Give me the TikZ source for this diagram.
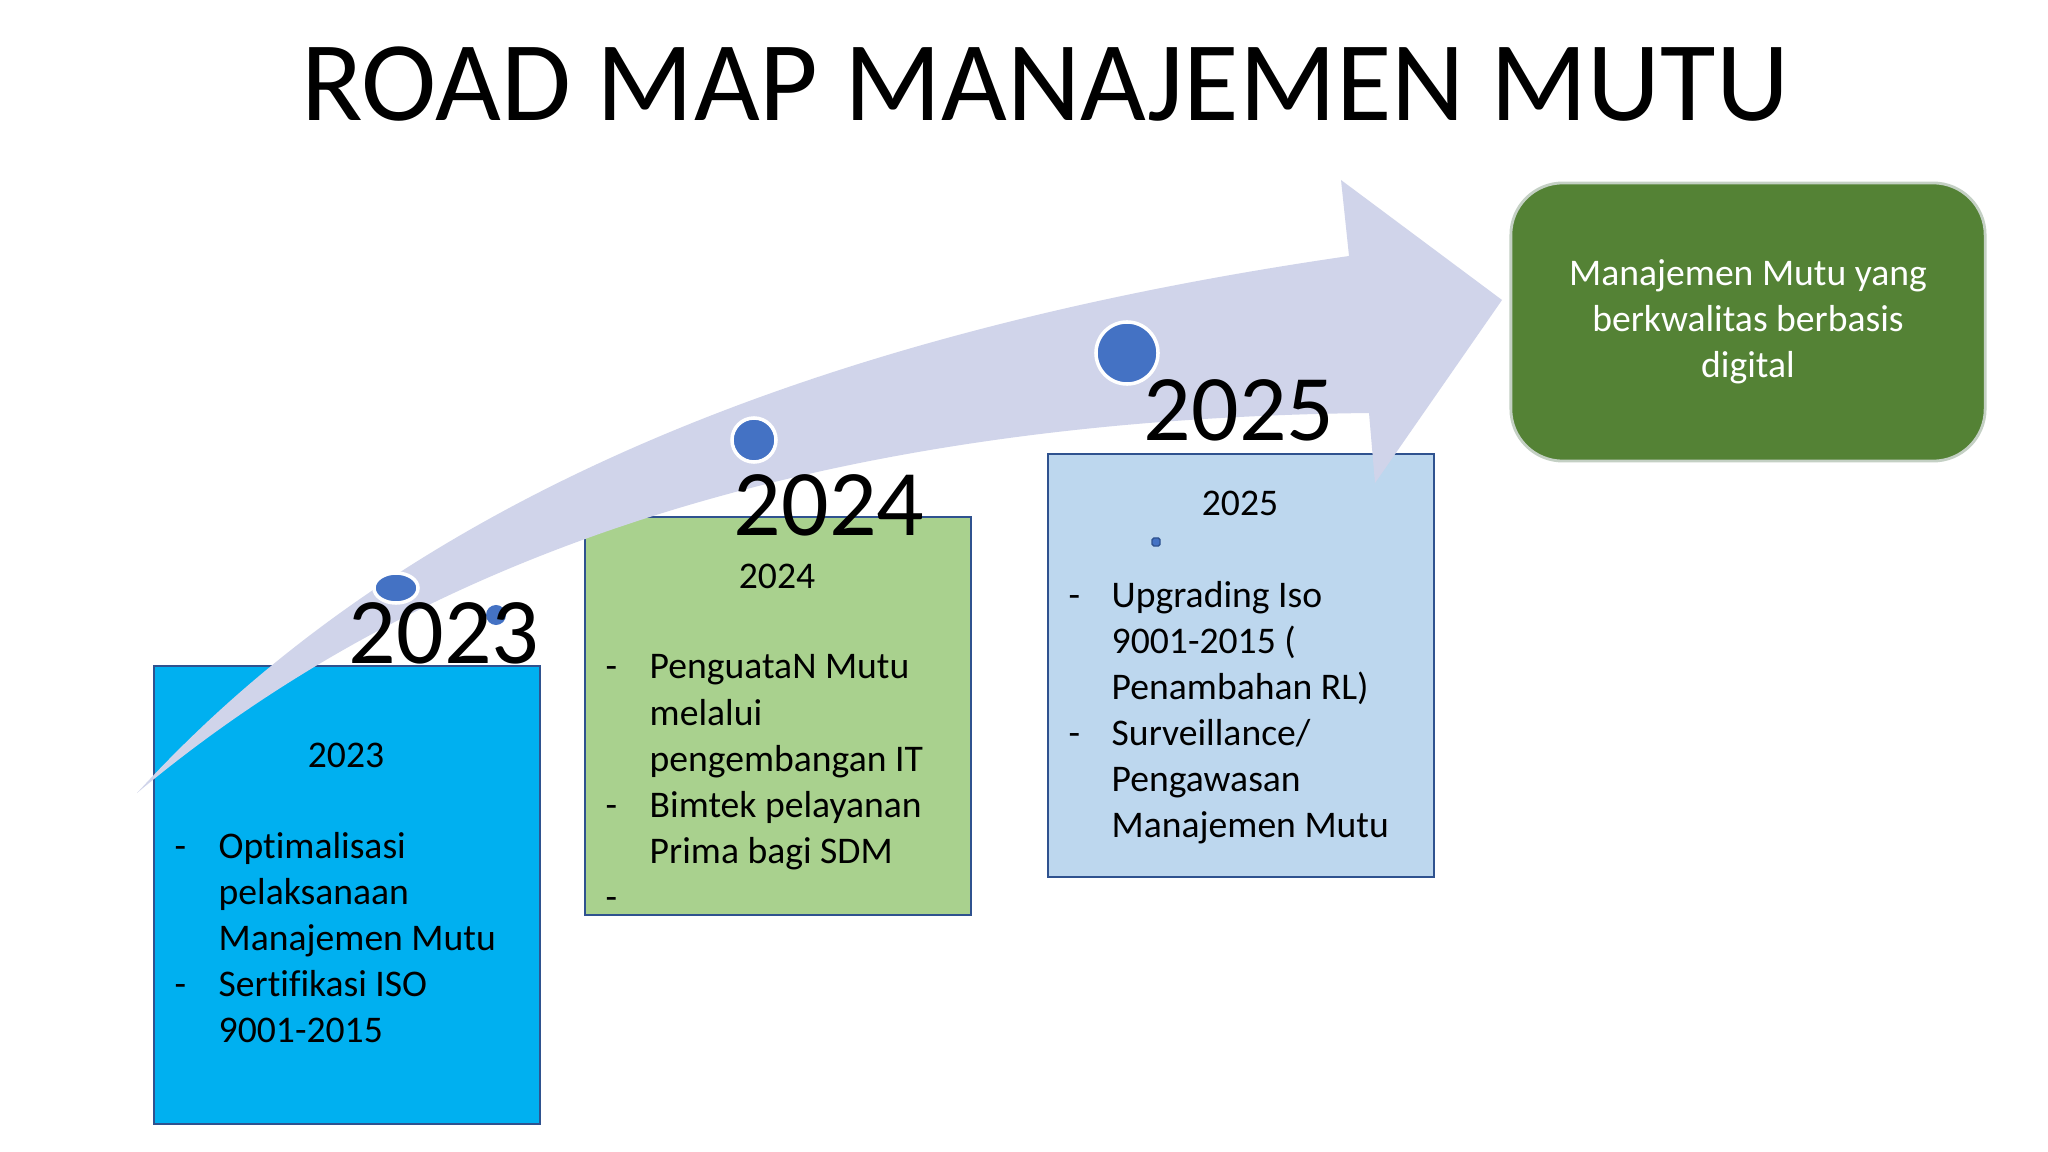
\documentclass[tikz,border=0pt]{standalone}
\usepackage{fontspec}
\setmainfont{Carlito}[Ligatures={NoCommon}]
\usetikzlibrary{shapes.geometric}
\definecolor{arrowfill}{RGB}{208,212,234}
\definecolor{boxedge}{RGB}{47,82,143}
\definecolor{cyanbox}{RGB}{0,176,240}
\definecolor{greenbox}{RGB}{169,209,142}
\definecolor{bluebox}{RGB}{189,215,238}
\definecolor{goalgreen}{RGB}{84,130,53}
\definecolor{dotblue}{RGB}{68,114,196}
\newcommand{\itemfont}{\fontsize{10.7pt}{13.1pt}\selectfont}
\newcommand{\bigyear}{\fontsize{26.7pt}{32pt}\selectfont}
\newcommand{\titlefont}{\fontsize{32.3pt}{40pt}\selectfont}

\begin{document}
\begin{tikzpicture}[x=0.01cm, y=-0.01cm,
  yearbox/.style={draw=boxedge, line width=0.6pt, anchor=north west, inner sep=0pt, minimum width=3.86cm},
  boxhead/.style={font=\itemfont, anchor=base, inner sep=0pt},
  boxlist/.style={font=\itemfont, anchor=base west, inner sep=0pt},
  bigyr/.style={font=\bigyear, anchor=base, inner sep=0pt},
  dot/.style={circle, fill=dotblue, draw=white, line width=1pt, inner sep=0pt}]
  \useasboundingbox[fill=white] (0,0) rectangle (2048,1152);
  \node[font=\titlefont, anchor=base, inner sep=0pt] (title) at (1045,121) {ROAD MAP MANAJEMEN MUTU};
  % year boxes and goal
  \node[yearbox, fill=cyanbox, minimum height=4.58cm] (b23) at (153,665) {};
  \node[yearbox, fill=greenbox, minimum height=3.98cm] (b24) at (584,516) {};
  \node[yearbox, fill=bluebox, minimum height=4.23cm] (b25) at (1047,453) {};
  \node[draw={rgb,255:red,196;green,208;blue,196}, line width=0.8pt, fill=goalgreen, rounded corners=0.52cm,
        minimum width=4.74cm, minimum height=2.78cm, text=white, font=\itemfont, align=center] (goal)
        at (1748,322) {Manajemen Mutu yang\\berkwalitas berbasis\\digital};
  % curved arrow
  \fill[arrowfill] (137,793) .. controls (350,560) and (700,350) .. (1349,256) -- (1341,180) -- (1502,300)
    -- (1375,483) -- (1369,413) .. controls (750,420) and (380,590) .. (137,793) -- cycle;
  % box texts
  \node[boxhead] (h23) at (346,767) {2023};
  \node[boxlist] (l23) at (174,858) {\begin{tabular}[t]{@{}p{0.44cm}@{}l@{}}
    - & Optimalisasi\\ & pelaksanaan\\ & Manajemen Mutu\\ - & Sertifikasi ISO\\ & 9001-2015
  \end{tabular}};
  \node[boxhead] (h24) at (777,588) {2024};
  \node[boxlist] (l24) at (605,679) {\begin{tabular}[t]{@{}p{0.44cm}@{}l@{}}
    - & PenguataN Mutu\\ & melalui\\ & pengembangan IT\\ - & Bimtek pelayanan\\ & Prima bagi SDM\\ - &
  \end{tabular}};
  \node[boxhead] (h25) at (1240,515) {2025};
  \node[boxlist] (l25) at (1068,607) {\begin{tabular}[t]{@{}p{0.43cm}@{}l@{}}
    - & Upgrading Iso\\ & 9001-2015 (\\ & Penambahan RL)\\ - & Surveillance/\\ & Pengawasan\\ & Manajemen Mutu
  \end{tabular}};
  % dots
  \node[dot, ellipse, minimum width=0.44cm, minimum height=0.30cm] (d23) at (396,588) {};
  \node[circle, fill=dotblue, inner sep=0pt, minimum size=0.2cm] (d23b) at (496,615) {};
  \node[dot, minimum size=0.44cm] (d24) at (754,440) {};
  \node[dot, minimum size=0.62cm] (d25) at (1127,353) {};
  \node[draw=boxedge, fill=dotblue, rounded corners=0.5pt, line width=0.4pt, inner sep=0pt, minimum size=0.08cm] (sq25) at (1156,542) {};
  % big year labels
  \node[bigyr] (y23) at (444,663) {2023};
  \node[bigyr] (y24) at (829,535) {2024};
  \node[bigyr] (y25) at (1239,441) {2025};
\end{tikzpicture}
\end{document}
